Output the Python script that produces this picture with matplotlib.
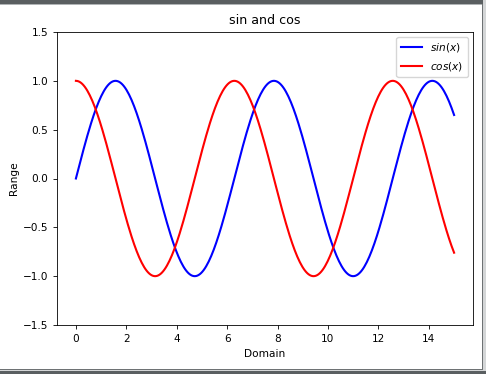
import numpy as np
import matplotlib
matplotlib.use("Agg")
import matplotlib.pyplot as plt
from matplotlib.patches import Rectangle

# the two curves are the functions named in the legend, sampled over 0..15
x = np.linspace(0, 15, 300)
sin_y = np.sin(x)
cos_y = np.cos(x)

xticks = [0, 2, 4, 6, 8, 10, 12, 14]
yticks = [-1.5, -1.0, -0.5, 0.0, 0.5, 1.0, 1.5]

plt.rcParams['font.size'] = 7.6

fig = plt.figure(figsize=(4.86, 3.74), dpi=100)
W, H = 486, 374
ax = fig.add_axes([57 / W, (H - 325) / H, (473 - 57) / W, (325 - 32) / H])

ax.plot(x, sin_y, color='blue', lw=1.5, label='$sin(x)$')
ax.plot(x, cos_y, color='red', lw=1.5, label='$cos(x)$')
ax.set_xticks(xticks)
ax.set_yticks(yticks)
ax.set_ylim(-1.5, 1.5)
ax.set_xlim(-0.75, 15.75)
ax.set_title('sin and cos', fontsize=9.1)
ax.set_xlabel('Domain')
ax.set_ylabel('Range', labelpad=2.5)
ax.legend(loc='upper right')
for s in ax.spines.values():
    s.set_linewidth(0.6)
ax.tick_params(width=0.6, length=2.7)

# window frame around the screenshot
def frame(x0, y0, w, h, c):
    fig.patches.append(Rectangle((x0 / W, 1 - (y0 + h) / H), w / W, h / H,
                                 transform=fig.transFigure, color=c, lw=0))

frame(0, 0, W, 4, '#5a5f61')
frame(0, 4, W, 1, '#b0b4b6')
frame(483, 0, 3, H, '#d4d6d7')
frame(482, 4, 1, 366, '#6e7274')
frame(0, 369, 483, 1, '#6e7274')
frame(0, 370, W, 1, '#d4d6d7')
frame(0, 371, W, 3, '#5a5f61')

fig.savefig('out.png', dpi=100)
